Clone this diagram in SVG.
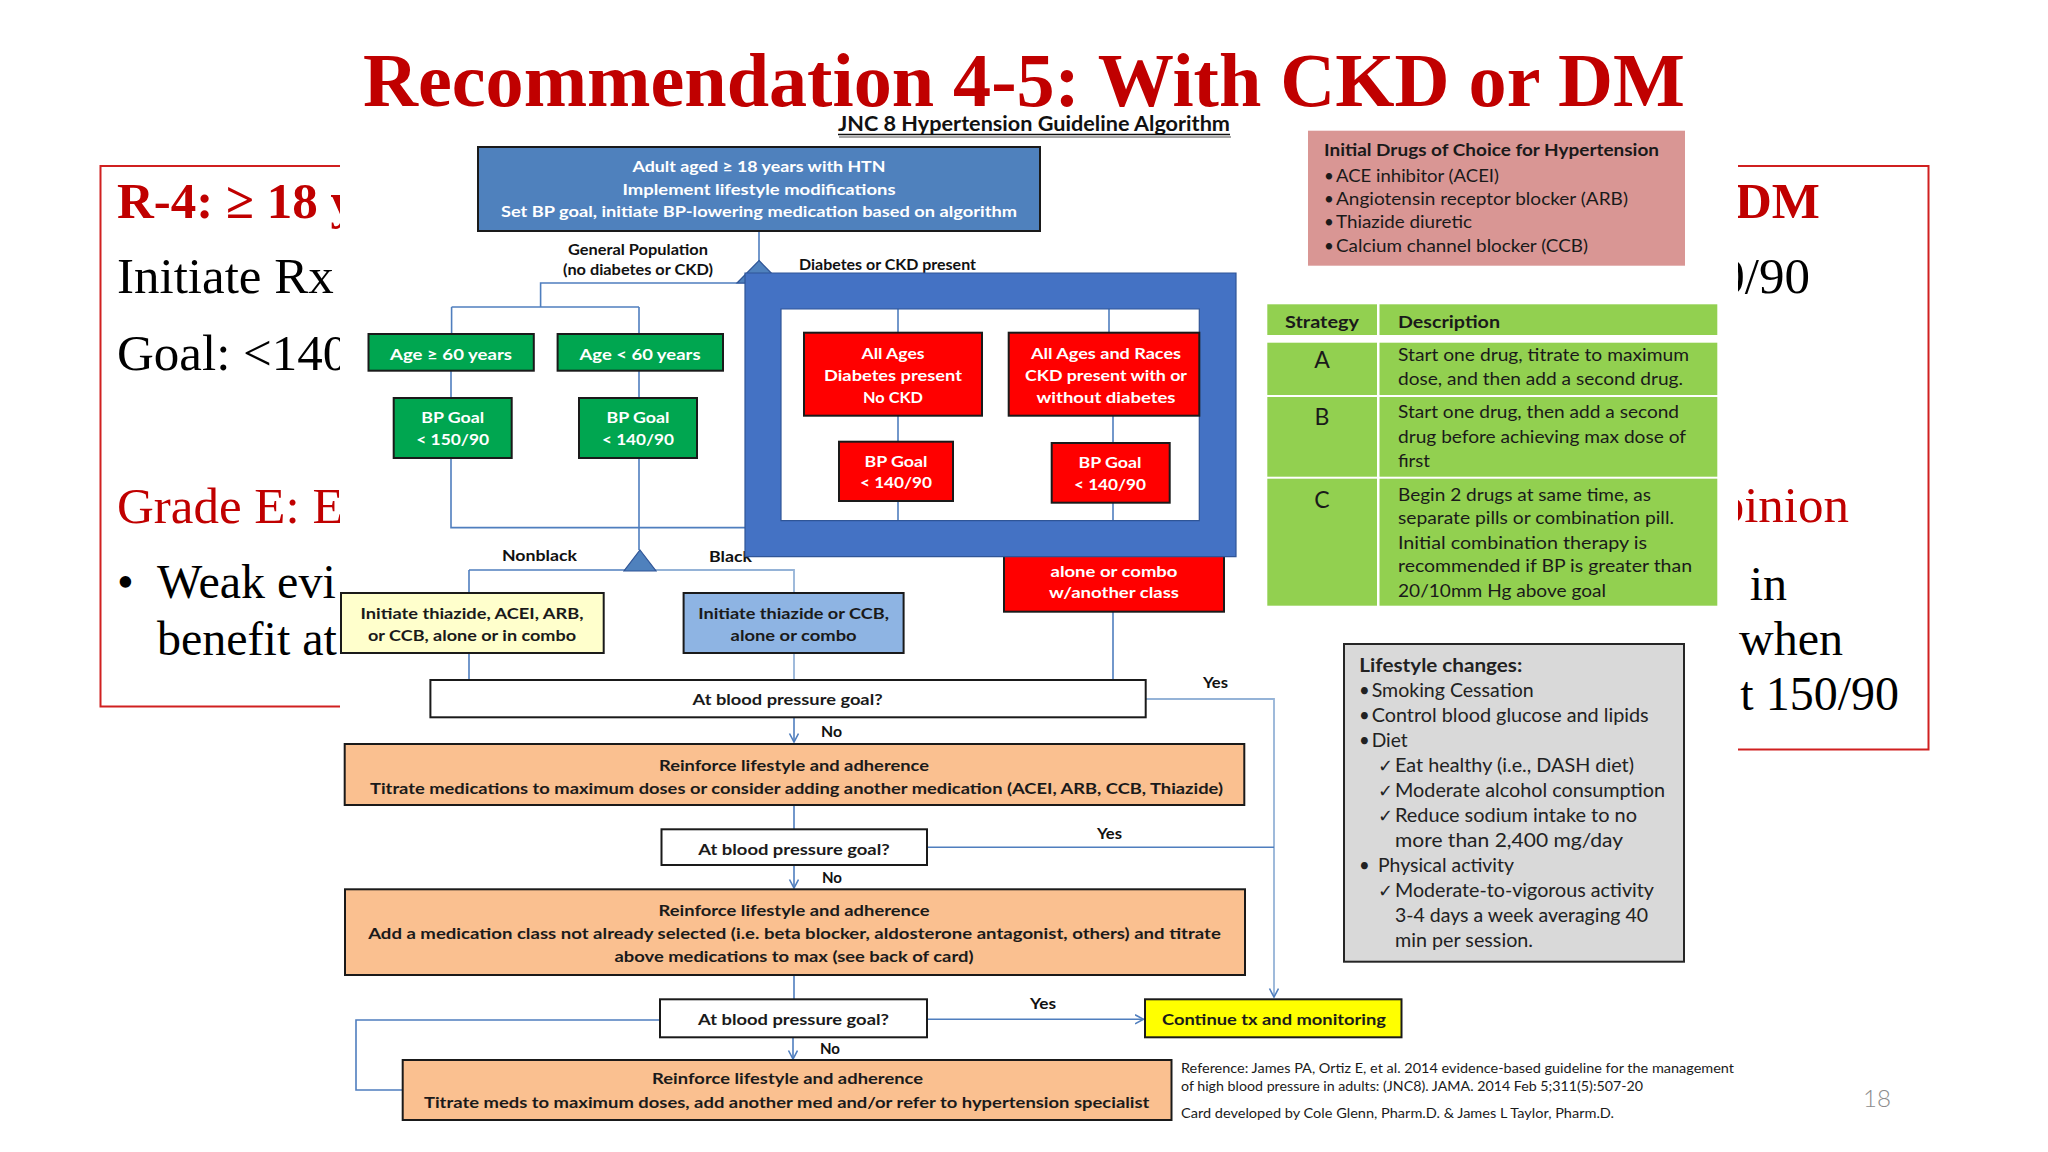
<svg xmlns="http://www.w3.org/2000/svg" width="2048" height="1152" viewBox="0 0 2048 1152">
<defs>
<style>
.sl { font-family: "Liberation Serif", "Times New Roman", serif; }
.fc { font-family: Lato, "Open Sans", "DejaVu Sans", sans-serif; }
.b { font-weight: 700; }
.wt { fill: #ffffff; }
.dk { fill: #1a1a1a; }
.m { text-anchor: middle; }
.e { text-anchor: end; }
.ln { fill: none; stroke: #4F7EBE; stroke-width: 1.6; }
.lnl { fill: none; stroke: #95B3D7; stroke-width: 1.8; }
.bx { stroke: #1A1A1A; stroke-width: 2; }
.red { fill: #FF0000; }
.grn { fill: #00A650; }
.org { fill: #FAC090; }
.tg { fill: #92D050; }
.f16 { font-size: 16px; }
.f15 { font-size: 15.5px; }
.f14 { font-size: 14.5px; }
.tb { font-size: 17px; }
.ls { font-size: 18.5px; fill: #222; }
.ck { font-family: "DejaVu Sans", sans-serif; font-size: 18px; font-weight: 700; fill: #222; }
.rf { font-size: 13px; fill: #1a1a1a; }
</style>
<marker id="ah" markerWidth="12" markerHeight="12" refX="9" refY="5" orient="auto" markerUnits="userSpaceOnUse">
<path d="M0.5,0.5 L9,5 L0.5,9.5" fill="none" stroke="#4F7EBE" stroke-width="1.6"/>
</marker>
</defs>

<rect x="0" y="0" width="2048" height="1152" fill="#ffffff"/>

<!-- slide title -->
<text id="title" class="sl b" x="363" y="106" font-size="77" fill="#C00000" textLength="1322" lengthAdjust="spacingAndGlyphs">Recommendation 4-5: With CKD or DM</text>

<!-- slide text boxes (partly hidden behind the algorithm card) -->
<g id="slide-left">
<rect x="100.5" y="166" width="800" height="540.5" fill="none" stroke="#D02020" stroke-width="2"/>
<text class="sl b" x="117" y="218" font-size="51" fill="#C00000">R-4: ≥ 18 y</text>
<text class="sl" x="117" y="293" font-size="51" fill="#000">Initiate Rx</text>
<text class="sl" x="117" y="370" font-size="51" fill="#000">Goal: &lt;140</text>
<text class="sl" x="117" y="523" font-size="51" fill="#C00000">Grade E: E</text>
<text class="sl" x="117" y="598" font-size="48" fill="#000">•</text>
<text class="sl" x="157" y="598" font-size="48" fill="#000">Weak evi</text>
<text class="sl" x="157" y="655" font-size="48" fill="#000">benefit at</text>
</g>
<g id="slide-right">
<rect x="1100" y="166" width="828.5" height="583.5" fill="none" stroke="#D02020" stroke-width="2"/>
<text class="sl b e" x="1820" y="218" font-size="51" fill="#C00000">DM</text>
<text class="sl e" x="1810" y="293" font-size="51" fill="#000">0/90</text>
<text class="sl e" x="1849" y="522" font-size="51" fill="#C00000">pinion</text>
<text class="sl e" x="1787" y="600" font-size="48" fill="#000">in</text>
<text class="sl e" x="1843" y="655" font-size="48" fill="#000">when</text>
<text class="sl e" x="1899" y="710" font-size="48" fill="#000">t 150/90</text>
</g>

<!-- algorithm card background -->
<rect id="card" x="340" y="112" width="1398" height="1025" fill="#ffffff"/>

<g id="card-title">
<text class="fc b m" x="1034" y="131" font-size="20" fill="#111" textLength="392" lengthAdjust="spacingAndGlyphs">JNC 8 Hypertension Guideline Algorithm</text>
<line x1="838" y1="134.5" x2="1230" y2="134.5" stroke="#111" stroke-width="1.5"/>
<line x1="839" y1="137" x2="1231" y2="137" stroke="#8a8a8a" stroke-width="1.5"/>
</g>

<!-- connectors -->
<g id="connectors">
<path class="ln" d="M759,231 V261"/>
<path class="ln" d="M745,283 H540.6 V307"/>
<path class="ln" d="M451.6,307 H639"/>
<path class="ln" d="M451.6,307 V334"/>
<path class="ln" d="M639,307 V334"/>
<path class="ln" d="M451,370.7 V398"/>
<path class="ln" d="M639,370.7 V398"/>
<path class="ln" d="M451,458 V527.6 H745"/>
<path class="ln" d="M639,458 V550"/>
<path class="ln" d="M469,570 H640"/>
<path class="lnl" d="M640,570 H794 V593"/>
<path class="ln" d="M469,570 V593"/>
<path class="ln" d="M469,653 V680"/>
<path class="lnl" d="M794,653 V680"/>
<path class="ln" d="M898,309 V332.7"/>
<path class="ln" d="M1109,309 V332.7"/>
<path class="ln" d="M898,415.7 V441.7"/>
<path class="ln" d="M1113,415.7 V443"/>
<path class="ln" d="M898,501 V520.7"/>
<path class="ln" d="M1113,502.7 V520.7"/>
<path class="ln" d="M1113,611.7 V680"/>
<path class="lnl" d="M1145.7,699 H1274 V997" marker-end="url(#ah)"/>
<path class="ln" d="M927,847.3 H1274"/>
<path class="ln" d="M794,717.3 V742" marker-end="url(#ah)"/>
<path class="ln" d="M794,805 V829.3"/>
<path class="ln" d="M794,865 V888" marker-end="url(#ah)"/>
<path class="ln" d="M794,975 V999.3"/>
<path class="ln" d="M793,1037.3 V1059" marker-end="url(#ah)"/>
<path class="ln" d="M927,1019.3 H1143.5" marker-end="url(#ah)"/>
<path class="ln" d="M660,1020 H356 V1090 H402.7"/>
</g>

<!-- edge labels -->
<g id="labels" class="fc b" fill="#111">
<text class="m f14" x="638" y="255" textLength="140" lengthAdjust="spacingAndGlyphs">General Population</text>
<text class="m f14" x="638" y="275" textLength="150" lengthAdjust="spacingAndGlyphs">(no diabetes or CKD)</text>
<text class="f14" x="799" y="270" textLength="177" lengthAdjust="spacingAndGlyphs">Diabetes or CKD present</text>
<text class="f14" x="502" y="561" textLength="75" lengthAdjust="spacingAndGlyphs">Nonblack</text>
<text class="f14" x="709" y="561.7" textLength="43" lengthAdjust="spacingAndGlyphs">Black</text>
<text class="f14" x="1203" y="688" textLength="25" lengthAdjust="spacingAndGlyphs">Yes</text>
<text class="f14" x="821" y="737" textLength="21" lengthAdjust="spacingAndGlyphs">No</text>
<text class="f14" x="1097" y="839" textLength="25" lengthAdjust="spacingAndGlyphs">Yes</text>
<text class="f14" x="822" y="883.3" textLength="20" lengthAdjust="spacingAndGlyphs">No</text>
<text class="f14" x="1030" y="1009.3" textLength="26" lengthAdjust="spacingAndGlyphs">Yes</text>
<text class="f14" x="820" y="1054" textLength="20" lengthAdjust="spacingAndGlyphs">No</text>
</g>

<!-- nodes -->
<g id="start" class="fc b">
<rect class="bx" x="478" y="147" width="562" height="84" fill="#4F81BD"/>
<text class="m f16 wt" x="759" y="172" textLength="253" lengthAdjust="spacingAndGlyphs">Adult aged ≥ 18 years with HTN</text>
<text class="m f16 wt" x="759" y="195" textLength="273" lengthAdjust="spacingAndGlyphs">Implement lifestyle modifications</text>
<text class="m f16 wt" x="759" y="217" textLength="516" lengthAdjust="spacingAndGlyphs">Set BP goal, initiate BP-lowering medication based on algorithm</text>
</g>

<g id="split-population">
<polygon points="759,260.5 781,283 737,283" fill="#4F81BD" stroke="#2F5597" stroke-width="1.2"/>
</g>

<g id="age-60-plus" class="fc b">
<rect class="bx grn" x="368.5" y="334" width="165.3" height="36.7"/>
<text class="m f16 wt" x="451" y="360" textLength="122" lengthAdjust="spacingAndGlyphs">Age  ≥ 60 years</text>
</g>
<g id="age-under-60" class="fc b">
<rect class="bx grn" x="557.6" y="334" width="165.4" height="36.7"/>
<text class="m f16 wt" x="640" y="360" textLength="121" lengthAdjust="spacingAndGlyphs">Age  &lt; 60 years</text>
</g>
<g id="goal-150" class="fc b">
<rect class="bx grn" x="393.7" y="398" width="118" height="60"/>
<text class="m f16 wt" x="452.7" y="423" textLength="63" lengthAdjust="spacingAndGlyphs">BP Goal</text>
<text class="m f16 wt" x="452.7" y="445" textLength="73" lengthAdjust="spacingAndGlyphs">&lt; 150/90</text>
</g>
<g id="goal-140-general" class="fc b">
<rect class="bx grn" x="579" y="398" width="118" height="60"/>
<text class="m f16 wt" x="638" y="423" textLength="63" lengthAdjust="spacingAndGlyphs">BP Goal</text>
<text class="m f16 wt" x="638" y="445" textLength="72" lengthAdjust="spacingAndGlyphs">&lt; 140/90</text>
</g>

<g id="alone-combo" class="fc b">
<rect class="bx red" x="1004" y="530" width="220" height="81.7"/>
<text class="m f15 wt" x="1114" y="577" textLength="127" lengthAdjust="spacingAndGlyphs">alone or combo</text>
<text class="m f15 wt" x="1114" y="598" textLength="130" lengthAdjust="spacingAndGlyphs">w/another class</text>
</g>

<g id="dm-ckd-frame">
<path d="M745,273 H1236 V556.7 H745 Z M781,309 V520.7 H1199.3 V309 Z" fill="#4472C4" fill-rule="evenodd" stroke="#2F5597" stroke-width="1.2"/>
</g>

<g id="diabetes-no-ckd" class="fc b">
<rect class="bx red" x="804" y="332.7" width="178" height="83"/>
<text class="m f15 wt" x="893" y="358.7" textLength="63" lengthAdjust="spacingAndGlyphs">All Ages</text>
<text class="m f15 wt" x="893" y="380.5" textLength="138" lengthAdjust="spacingAndGlyphs">Diabetes present</text>
<text class="m f15 wt" x="893" y="402.7" textLength="60" lengthAdjust="spacingAndGlyphs">No CKD</text>
</g>
<g id="ckd-present" class="fc b">
<rect class="bx red" x="1008.7" y="332.7" width="190.6" height="83"/>
<text class="m f15 wt" x="1106" y="358.7" textLength="150" lengthAdjust="spacingAndGlyphs">All Ages and Races</text>
<text class="m f15 wt" x="1106" y="380.5" textLength="162" lengthAdjust="spacingAndGlyphs">CKD present with or</text>
<text class="m f15 wt" x="1106" y="402.7" textLength="139" lengthAdjust="spacingAndGlyphs">without diabetes</text>
</g>
<g id="goal-140-dm" class="fc b">
<rect class="bx red" x="839" y="441.7" width="114" height="59.3"/>
<text class="m f15 wt" x="896" y="466.7" textLength="63" lengthAdjust="spacingAndGlyphs">BP Goal</text>
<text class="m f15 wt" x="896" y="488" textLength="72" lengthAdjust="spacingAndGlyphs">&lt; 140/90</text>
</g>
<g id="goal-140-ckd" class="fc b">
<rect class="bx red" x="1051.7" y="443" width="118" height="59.7"/>
<text class="m f15 wt" x="1110" y="468" textLength="63" lengthAdjust="spacingAndGlyphs">BP Goal</text>
<text class="m f15 wt" x="1110" y="490" textLength="72" lengthAdjust="spacingAndGlyphs">&lt; 140/90</text>
</g>

<g id="split-race">
<polygon points="640,550 656,571 624,571" fill="#4F81BD" stroke="#2F5597" stroke-width="1.2"/>
</g>

<g id="nonblack-rx" class="fc b">
<rect class="bx" x="341" y="593" width="262.7" height="60" fill="#FFFFCC"/>
<text class="m f16 dk" x="472" y="619" textLength="223" lengthAdjust="spacingAndGlyphs">Initiate thiazide, ACEI, ARB,</text>
<text class="m f16 dk" x="472" y="640.7" textLength="208" lengthAdjust="spacingAndGlyphs">or CCB, alone or in combo</text>
</g>
<g id="black-rx" class="fc b">
<rect class="bx" x="683.6" y="593" width="220" height="60" fill="#8EB4E3"/>
<text class="m f16 dk" x="793.6" y="619" textLength="190.6" lengthAdjust="spacingAndGlyphs">Initiate thiazide or CCB,</text>
<text class="m f16 dk" x="793.6" y="640.7" textLength="126" lengthAdjust="spacingAndGlyphs">alone or combo</text>
</g>

<g id="bp-goal-1" class="fc b">
<rect class="bx" x="430.4" y="680" width="715.3" height="37.3" fill="#ffffff"/>
<text class="m f16 dk" x="787.6" y="705" textLength="190" lengthAdjust="spacingAndGlyphs">At blood pressure goal?</text>
</g>
<g id="reinforce-1" class="fc b">
<rect class="bx org" x="344.7" y="744" width="899.6" height="61"/>
<text class="m f16 dk" x="794" y="771" textLength="270" lengthAdjust="spacingAndGlyphs">Reinforce lifestyle and adherence</text>
<text class="m f16 dk" x="796.5" y="794" textLength="853" lengthAdjust="spacingAndGlyphs">Titrate medications to maximum doses or consider adding another medication  (ACEI, ARB, CCB, Thiazide)</text>
</g>
<g id="bp-goal-2" class="fc b">
<rect class="bx" x="661.5" y="829.3" width="265.5" height="35.7" fill="#ffffff"/>
<text class="m f16 dk" x="794" y="855" textLength="191.5" lengthAdjust="spacingAndGlyphs">At blood pressure goal?</text>
</g>
<g id="reinforce-2" class="fc b">
<rect class="bx org" x="345" y="889.3" width="900" height="85.7"/>
<text class="m f16 dk" x="794" y="916" textLength="271" lengthAdjust="spacingAndGlyphs">Reinforce lifestyle and adherence</text>
<text class="m f16 dk" x="794.5" y="939" textLength="852.7" lengthAdjust="spacingAndGlyphs">Add a medication class not already selected (i.e. beta blocker, aldosterone antagonist, others) and titrate</text>
<text class="m f16 dk" x="794" y="961.5" textLength="359" lengthAdjust="spacingAndGlyphs">above medications to max (see back of card)</text>
</g>
<g id="bp-goal-3" class="fc b">
<rect class="bx" x="660" y="999.3" width="267" height="38" fill="#ffffff"/>
<text class="m f16 dk" x="793.5" y="1025" textLength="191" lengthAdjust="spacingAndGlyphs">At blood pressure goal?</text>
</g>
<g id="continue" class="fc b">
<rect class="bx" x="1145" y="999.3" width="256.5" height="38" fill="#FFFF00"/>
<text class="m f16 dk" x="1274" y="1025" textLength="224" lengthAdjust="spacingAndGlyphs">Continue tx and monitoring</text>
</g>
<g id="reinforce-3" class="fc b">
<rect class="bx org" x="402.7" y="1060" width="768.8" height="60"/>
<text class="m f16 dk" x="787.6" y="1084" textLength="271" lengthAdjust="spacingAndGlyphs">Reinforce lifestyle and adherence</text>
<text class="m f16 dk" x="786.7" y="1107.5" textLength="725.5" lengthAdjust="spacingAndGlyphs">Titrate meds to maximum doses, add another med and/or refer to hypertension specialist</text>
</g>

<!-- side panels -->
<g id="initial-drugs" class="fc">
<rect x="1308" y="130.7" width="377" height="135" fill="#D99694"/>
<text class="b tb dk" x="1324" y="156" textLength="335" lengthAdjust="spacingAndGlyphs">Initial Drugs of Choice for Hypertension</text>
<text class="tb dk" x="1324" y="181.5">•</text>
<text class="tb dk" x="1336" y="181.5" textLength="163" lengthAdjust="spacingAndGlyphs">ACE inhibitor (ACEI)</text>
<text class="tb dk" x="1324" y="205">•</text>
<text class="tb dk" x="1336" y="205" textLength="292" lengthAdjust="spacingAndGlyphs">Angiotensin receptor blocker (ARB)</text>
<text class="tb dk" x="1324" y="228">•</text>
<text class="tb dk" x="1336" y="228" textLength="136" lengthAdjust="spacingAndGlyphs">Thiazide diuretic</text>
<text class="tb dk" x="1324" y="251.5">•</text>
<text class="tb dk" x="1336" y="251.5" textLength="252" lengthAdjust="spacingAndGlyphs">Calcium channel blocker (CCB)</text>
</g>

<g id="strategy-table" class="fc">
<rect class="tg" x="1267.3" y="304.3" width="109.7" height="30.7"/>
<rect class="tg" x="1379.5" y="304.3" width="337.8" height="30.7"/>
<rect class="tg" x="1267.3" y="342.7" width="109.7" height="52.3"/>
<rect class="tg" x="1379.5" y="342.7" width="337.8" height="52.3"/>
<rect class="tg" x="1267.3" y="397" width="109.7" height="79.7"/>
<rect class="tg" x="1379.5" y="397" width="337.8" height="79.7"/>
<rect class="tg" x="1267.3" y="478.7" width="109.7" height="127"/>
<rect class="tg" x="1379.5" y="478.7" width="337.8" height="127"/>
<text class="b tb dk m" x="1322" y="328" textLength="74" lengthAdjust="spacingAndGlyphs">Strategy</text>
<text class="b tb dk" x="1398" y="328" textLength="102" lengthAdjust="spacingAndGlyphs">Description</text>
<text class="dk m" x="1322" y="368.3" font-size="23">A</text>
<text class="tb dk" x="1398" y="360.7" textLength="291" lengthAdjust="spacingAndGlyphs">Start one drug, titrate to maximum</text>
<text class="tb dk" x="1398" y="385" textLength="285" lengthAdjust="spacingAndGlyphs">dose, and then add a second drug.</text>
<text class="dk m" x="1322" y="425" font-size="23">B</text>
<text class="tb dk" x="1398" y="418.3" textLength="281" lengthAdjust="spacingAndGlyphs">Start one drug, then add a second</text>
<text class="tb dk" x="1398" y="443.3" textLength="288" lengthAdjust="spacingAndGlyphs">drug before achieving max dose of</text>
<text class="tb dk" x="1398" y="466.7" textLength="32" lengthAdjust="spacingAndGlyphs">first</text>
<text class="dk m" x="1322" y="507.7" font-size="23">C</text>
<text class="tb dk" x="1398" y="501" textLength="253" lengthAdjust="spacingAndGlyphs">Begin 2 drugs at same time, as</text>
<text class="tb dk" x="1398" y="524" textLength="276" lengthAdjust="spacingAndGlyphs">separate pills or combination pill.</text>
<text class="tb dk" x="1398" y="549" textLength="249" lengthAdjust="spacingAndGlyphs">Initial combination therapy is</text>
<text class="tb dk" x="1398" y="572.3" textLength="294" lengthAdjust="spacingAndGlyphs">recommended if BP is greater than</text>
<text class="tb dk" x="1398" y="596.7" textLength="208" lengthAdjust="spacingAndGlyphs">20/10mm Hg above goal</text>
</g>

<g id="lifestyle" class="fc">
<rect x="1344" y="644" width="340" height="317.7" fill="#D9D9D9" stroke="#262626" stroke-width="2"/>
<text class="ls b" x="1359.3" y="671.7" textLength="163" lengthAdjust="spacingAndGlyphs">Lifestyle  changes:</text>
<text class="ls" x="1359" y="696.7">•</text>
<text class="ls" x="1371.7" y="696.7" textLength="162" lengthAdjust="spacingAndGlyphs">Smoking Cessation</text>
<text class="ls" x="1359" y="721.7">•</text>
<text class="ls" x="1371.7" y="721.7" textLength="277" lengthAdjust="spacingAndGlyphs">Control blood glucose and lipids</text>
<text class="ls" x="1359" y="746.7">•</text>
<text class="ls" x="1371.7" y="746.7" textLength="36" lengthAdjust="spacingAndGlyphs">Diet</text>
<text class="ck" x="1378" y="771.7">✓</text>
<text class="ls" x="1395" y="771.7" textLength="239" lengthAdjust="spacingAndGlyphs">Eat healthy (i.e., DASH diet)</text>
<text class="ck" x="1378" y="796.7">✓</text>
<text class="ls" x="1395" y="796.7" textLength="270" lengthAdjust="spacingAndGlyphs">Moderate alcohol consumption</text>
<text class="ck" x="1378" y="821.7">✓</text>
<text class="ls" x="1395" y="821.7" textLength="242" lengthAdjust="spacingAndGlyphs">Reduce sodium intake to no</text>
<text class="ls" x="1395" y="846.7" textLength="228" lengthAdjust="spacingAndGlyphs">more than 2,400 mg/day</text>
<text class="ls" x="1359" y="871.7">•</text>
<text class="ls" x="1378" y="871.7" textLength="136" lengthAdjust="spacingAndGlyphs">Physical activity</text>
<text class="ck" x="1378" y="896.7">✓</text>
<text class="ls" x="1395" y="896.7" textLength="259" lengthAdjust="spacingAndGlyphs">Moderate-to-vigorous activity</text>
<text class="ls" x="1395" y="921.7" textLength="253" lengthAdjust="spacingAndGlyphs">3-4 days a week averaging 40</text>
<text class="ls" x="1395" y="946.7" textLength="138" lengthAdjust="spacingAndGlyphs">min per session.</text>
</g>

<g id="reference" class="fc">
<text class="rf" x="1181" y="1073" textLength="553" lengthAdjust="spacingAndGlyphs">Reference: James PA, Ortiz E, et al. 2014 evidence-based guideline for the management</text>
<text class="rf" x="1181" y="1091" textLength="462" lengthAdjust="spacingAndGlyphs">of high blood pressure in adults: (JNC8). JAMA. 2014 Feb 5;311(5):507-20</text>
<text class="rf" x="1181" y="1118" textLength="433" lengthAdjust="spacingAndGlyphs">Card developed by Cole Glenn, Pharm.D. &amp; James L Taylor, Pharm.D.</text>
</g>

<text id="page-number" class="fc" x="1863" y="1107" font-size="24" font-weight="300" fill="#8C8C8C" textLength="28" lengthAdjust="spacingAndGlyphs">18</text>
</svg>
